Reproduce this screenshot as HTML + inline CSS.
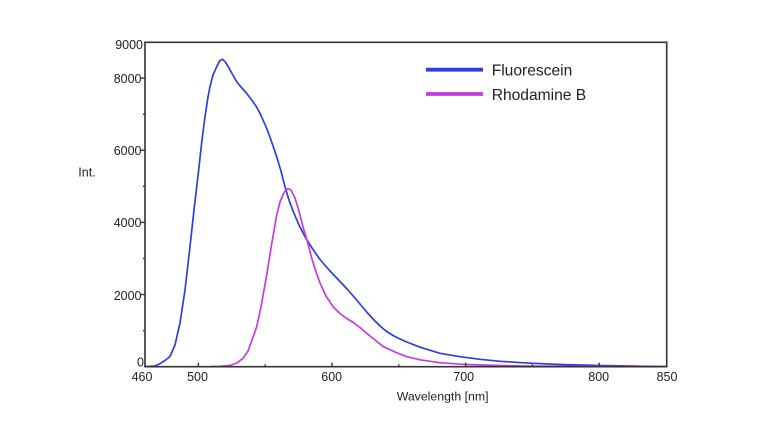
<!DOCTYPE html>
<html>
<head>
<meta charset="utf-8">
<style>
  html, body { margin: 0; padding: 0; background: #ffffff; }
  svg { display: block; }
  text { font-family: "Liberation Sans", Arial, sans-serif; fill: #222; }
</style>
</head>
<body>
<svg width="768" height="433" viewBox="0 0 768 433" xmlns="http://www.w3.org/2000/svg">
  <rect x="0" y="0" width="768" height="433" fill="#ffffff"/>

  <!-- Fluorescein -->
  <polyline fill="none" stroke="#2c3fe0" stroke-width="1.7" stroke-linejoin="round" stroke-linecap="round"
    points="145,366.5 150,366.3 155,366 160,363.6 165,360.5 170,356.5 175,345 180,323 185,290 190,246.7 194,210 198.3,173.3 202,140 205,116.7 208,97 210,86.7 213,75 216.7,66.7 219.5,61 222.3,59.3 225,61.5 228.3,66.7 232,73.5 236.7,81.7 241,87 246,92.5 251.7,100 256,106 260,113.3 266.7,128.3 271,140 276.7,156.7 281,171 285,186.7 289,200 293.3,211.7 299,225 305,236.7 312,248 320,259.5 330,271 340,281.5 348,290 356.7,300 362,306.5 368,313.5 375,321 380,326 386,331 393,335.5 400,339 406.7,342 420,347.2 440,353.3 460,356.7 480,359.3 500,361.3 530,363.2 560,364.5 600,365.5 640,366.2 666,366.5"/>

  <!-- Rhodamine B -->
  <polyline fill="none" stroke="#c43ce0" stroke-width="1.7" stroke-linejoin="round" stroke-linecap="round"
    points="211.7,366.5 220,366.3 230,365.5 237,363 243.3,358 248,351 252,340 256.7,326.7 261,307 266.7,275 271,248 276.7,215 280,202 283.3,194 286,189.5 288.3,188.8 291,190 295,198 299,211 303.3,228 307,240 311.7,258 316,272 320,283 326,296 333.3,307 340,313.5 346,318 353.3,322.5 360,327.5 366.7,333.3 375,340 383.3,346.7 395,352 406.7,356.7 420,359.8 440,362.7 460,364.2 480,365 520,366 560,366.4 666,366.5"/>

  <!-- Frame -->
  <rect x="145" y="42.3" width="521.7" height="324.4" fill="none" stroke="#333" stroke-width="1.6"/>

  <!-- Y ticks (outward) -->
  <g stroke="#333" stroke-width="1.4">
    <line x1="141" y1="78.1" x2="145" y2="78.1"/>
    <line x1="141" y1="150.2" x2="145" y2="150.2"/>
    <line x1="141" y1="222.4" x2="145" y2="222.4"/>
    <line x1="141" y1="294.5" x2="145" y2="294.5"/>
    <line x1="143" y1="114.2" x2="145" y2="114.2"/>
    <line x1="143" y1="186.3" x2="145" y2="186.3"/>
    <line x1="143" y1="258.5" x2="145" y2="258.5"/>
    <line x1="143" y1="330.6" x2="145" y2="330.6"/>
  </g>
  <!-- X ticks (inward) -->
  <g stroke="#333" stroke-width="1.4">
    <line x1="198.4" y1="366.7" x2="198.4" y2="362.7"/>
    <line x1="332" y1="366.7" x2="332" y2="362.7"/>
    <line x1="465.6" y1="366.7" x2="465.6" y2="362.7"/>
    <line x1="599.2" y1="366.7" x2="599.2" y2="362.7"/>
    <line x1="265.2" y1="366.7" x2="265.2" y2="364.3"/>
    <line x1="398.8" y1="366.7" x2="398.8" y2="364.3"/>
    <line x1="532.4" y1="366.7" x2="532.4" y2="364.3"/>
  </g>

  <!-- Y labels -->
  <g font-size="12.5" text-anchor="end">
    <text x="143" y="49">9000</text>
    <text x="141.5" y="82.8">8000</text>
    <text x="141.5" y="155">6000</text>
    <text x="141.5" y="227">4000</text>
    <text x="141.5" y="300">2000</text>
    <text x="144" y="366.5">0</text>
  </g>
  <!-- X labels -->
  <g font-size="12.5" text-anchor="middle">
    <text x="142" y="381">460</text>
    <text x="197.5" y="381">500</text>
    <text x="331.7" y="381">600</text>
    <text x="463.7" y="381">700</text>
    <text x="598.7" y="381">800</text>
    <text x="667" y="381">850</text>
  </g>

  <!-- Axis titles -->
  <text x="78.3" y="176.7" font-size="12.5">Int.</text>
  <text x="396.7" y="400.7" font-size="12.3">Wavelength [nm]</text>

  <!-- Legend -->
  <line x1="426" y1="69.7" x2="483" y2="69.7" stroke="#2a3fe6" stroke-width="3.8"/>
  <line x1="426" y1="94" x2="483" y2="94" stroke="#c43ce0" stroke-width="3.8"/>
  <text x="491.7" y="75.7" font-size="15.6">Fluorescein</text>
  <text x="491.7" y="100" font-size="15.6">Rhodamine B</text>
</svg>
</body>
</html>
